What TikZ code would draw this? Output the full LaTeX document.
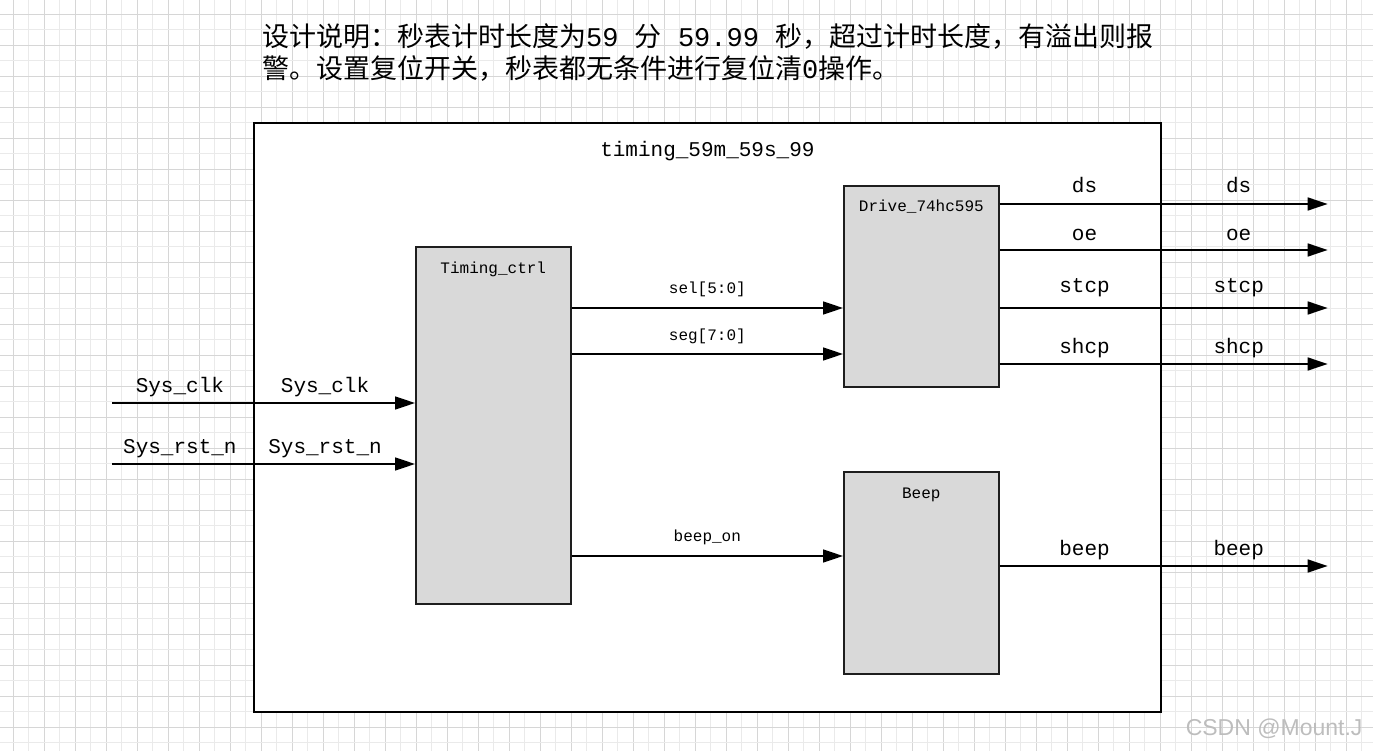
\documentclass[tikz,border=0pt]{standalone}
\usepackage{fontspec}
\usepackage{tikz}
\usetikzlibrary{arrows.meta,positioning,calc}
\newfontfamily\zhfont{Noto Sans CJK SC}
\newfontfamily\sigfont{Liberation Mono}
\newfontfamily\markfont{Liberation Sans}
\definecolor{ModFill}{HTML}{D9D9D9}
\definecolor{ModEdge}{HTML}{1E1E1E}
\definecolor{GridMinor}{HTML}{EAEAEA}
\definecolor{GridMajor}{HTML}{D6D6D6}
\definecolor{MarkGrey}{HTML}{BDBDBD}
\newcommand{\lat}[1]{{\sigfont #1}}

\begin{document}
\begin{tikzpicture}[
            x=1pt, y=-1pt,
            gridminor/.style={draw=GridMinor, line width=0.8pt},
            gridmajor/.style={draw=GridMajor, line width=0.8pt},
            topbox/.style={
                    draw=black,
                    line width=1.8pt,
                    fill=white,
                    anchor=north west,
                    inner sep=0pt
                },
            modbox/.style={
                    draw=ModEdge,
                    line width=1.6pt,
                    fill=ModFill,
                    anchor=north west,
                    inner sep=0pt,
                    minimum width=155pt
                },
            modname/.style={font=\sigfont\fontsize{16}{18}\selectfont, anchor=base},
            wire/.style={-{Triangle[length=20pt,width=13pt]}, line width=1.7pt},
            portlabel/.style={font=\sigfont\fontsize{21}{24}\selectfont, anchor=base},
            buslabel/.style={font=\sigfont\fontsize{16}{18}\selectfont, anchor=base},
            introtext/.style={font=\zhfont\fontsize{27}{32}\selectfont, anchor=base west, inner sep=0pt},
        ]
        \useasboundingbox (0,0) rectangle (1373,751);

        % Grid paper
        \foreach \k in {0,...,43} {
                \draw[gridminor] (28.8+31*\k,0) -- (28.8+31*\k,751);
                \draw[gridmajor] (13.3+31*\k,0) -- (13.3+31*\k,751);
            }
        \foreach \k in {0,...,23} {
                \draw[gridminor] (0,29.8+31*\k) -- (1373,29.8+31*\k);
                \draw[gridmajor] (0,14.3+31*\k) -- (1373,14.3+31*\k);
            }

        % Design note
        \node[introtext] (intro1) at (262,47)
        {设计说明：秒表计时长度为\lat{59~}分\lat{~59.99~}秒，超过计时长度，有溢出则报};
        \node[introtext] (intro2) at ([yshift=-32pt]intro1.base west)
        {警。设置复位开关，秒表都无条件进行复位清\lat{0}操作。};

        % Top module and sub-modules
        \node[topbox, minimum width=907pt, minimum height=589pt] (top) at (253,122) {};
        \node[portlabel] (topname) at ([yshift=-35pt]top.north) {timing\_59m\_59s\_99};

        \node[modbox, minimum height=357pt] (ctrl) at (415,246) {};
        \node[modbox, minimum height=201pt] (drive) at (843,185) {};
        \node[modbox, minimum height=202pt] (beep) at (843,471) {};

        \node[modname] (ctrlname) at ([yshift=-27pt]ctrl.north) {Timing\_ctrl};
        \node[modname] (drivename) at ([yshift=-27pt]drive.north) {Drive\_74hc595};
        \node[modname] (beepname) at ([yshift=-27pt]beep.north) {Beep};

        % Inputs
        \coordinate (clk-in) at (112,403);
        \coordinate (rst-in) at (112,464);
        \draw[wire] (clk-in) -- (clk-in -| ctrl.west)
        node[portlabel, pos=0.224, yshift=11pt] {Sys\_clk}
        node[portlabel, pos=0.703, yshift=11pt] {Sys\_clk};
        \draw[wire] (rst-in) -- (rst-in -| ctrl.west)
        node[portlabel, pos=0.224, yshift=11pt] {Sys\_rst\_n}
        node[portlabel, pos=0.703, yshift=11pt] {Sys\_rst\_n};

        % Internal buses
        \coordinate (sel-src) at ($(ctrl.north east)+(0,62)$);
        \coordinate (seg-src) at ($(ctrl.north east)+(0,108)$);
        \coordinate (beepon-src) at ($(ctrl.north east)+(0,310)$);
        \draw[wire] (sel-src) -- (sel-src -| drive.west)
        node[buslabel, midway, yshift=14pt] {sel[5:0]};
        \draw[wire] (seg-src) -- (seg-src -| drive.west)
        node[buslabel, midway, yshift=14pt] {seg[7:0]};
        \draw[wire] (beepon-src) -- (beepon-src -| beep.west)
        node[buslabel, midway, yshift=15pt] {beep\_on};

        % Outputs
        \foreach \sig/\yy/\dy in {ds/19/11, oe/65/9, stcp/123/16, shcp/179/11} {
                \draw[wire] ($(drive.north east)+(0,\yy)$) -- ++(328,0) coordinate (\sig-out)
                node[portlabel, pos=0.259, yshift=\dy pt] {\sig}
                node[portlabel, pos=0.729, yshift=\dy pt] {\sig};
            }
        \draw[wire] ($(beep.north east)+(0,95)$) -- ++(328,0) coordinate (beep-out)
        node[portlabel, pos=0.259, yshift=11pt] {beep}
        node[portlabel, pos=0.729, yshift=11pt] {beep};

        % Watermark
        \node[font=\markfont\fontsize{23}{26}\selectfont, text=MarkGrey, anchor=base east] (mark)
        at (1366,735) {CSDN @Mount.J};

    \end{tikzpicture}
\end{document}
